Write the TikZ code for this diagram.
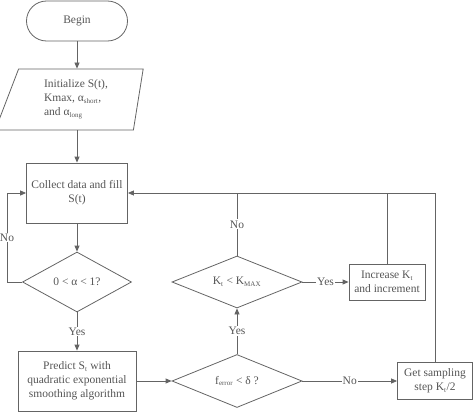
\documentclass[tikz,border=0pt]{standalone}
\usepackage{fontspec}
\setmainfont{Liberation Serif}
\usetikzlibrary{arrows.meta,shapes.geometric,positioning}
\definecolor{linegray}{RGB}{100,100,100}
\definecolor{textgray}{RGB}{85,85,85}
\newcommand{\lowtxt}[1]{\textsubscript{\fontsize{7}{7}\selectfont #1}}

\begin{document}
\begin{tikzpicture}[x=1pt,y=-1pt,color=linegray,line width=0.8pt,
    >={Triangle[length=6pt,width=5pt]},
    every node/.style={text=textgray,font=\fontsize{11.5}{14}\selectfont}]
  \tikzstyle{box}=[draw=linegray, rectangle, align=center, inner sep=2pt]
  \tikzstyle{cond}=[draw=linegray, diamond, aspect=2.2, inner sep=0pt, align=center]
  \tikzstyle{tag}=[fill=white, inner sep=1pt]

  \useasboundingbox (0,0) rectangle (474,412);

  \node[box, rounded corners=20pt, minimum width=101pt, minimum height=40pt] (begin) at (77,21) {Begin};
  \node[draw=linegray, trapezium, trapezium left angle=63, trapezium right angle=102,
        trapezium stretches body, minimum width=148pt, minimum height=61pt, align=left]
        (init) at (76,99.5) {Initialize S(t),\\Kmax, α\lowtxt{short},\\and α\lowtxt{long}};
  \node[box, minimum width=101pt, minimum height=60pt] (collect) at (77,193) {Collect data and fill\\S(t)};
  \node[cond, minimum width=109pt, minimum height=60pt] (alpha) at (77,282) {0 < α < 1?};
  \node[box, minimum width=118pt, minimum height=60pt] (predict) at (77,381) {Predict S\lowtxt{t} with\\quadratic exponential\\smoothing algorithm};
  \node[cond, minimum width=130pt, minimum height=53pt] (ferr) at (237,381) {f\lowtxt{error} < δ ?};
  \node[cond, minimum width=130pt, minimum height=52pt] (kmax) at (237,282) {K\lowtxt{t} < K\lowtxt{MAX}};
  \node[box, minimum width=76pt, minimum height=36pt] (incr) at (387,282) {Increase K\lowtxt{t}\\and increment};
  \node[box, minimum width=75pt, minimum height=37pt] (get) at (435,381) {Get sampling\\step K\lowtxt{t}/2};
  \coordinate (top) at (435,193);
  \coordinate (back) at (7,282);

  % main column
  \draw[->] (begin) -- (begin |- init.north);
  \draw[->] (begin |- init.south) -- (collect);
  \draw[->] (collect) -- (alpha);
  \draw[->] (alpha) -- node[tag] {Yes} (predict);
  \draw[->] (alpha.west) -- (back) -- node[tag] {No} (back |- collect.west) -- (collect.west);

  % step size loop
  \draw[->] (predict) -- (ferr);
  \draw[->] (ferr) -- node[tag] {No} (get);
  \draw[->] (ferr) -- node[tag] {Yes} (kmax);
  \draw[->] (kmax) -- node[tag] {Yes} (incr);
  \draw (kmax) -- node[tag] {No} (kmax |- top);
  \draw (incr) -- (incr |- top);
  \draw[->] (get) -- (top) -- (collect.east |- top);
\end{tikzpicture}
\end{document}
